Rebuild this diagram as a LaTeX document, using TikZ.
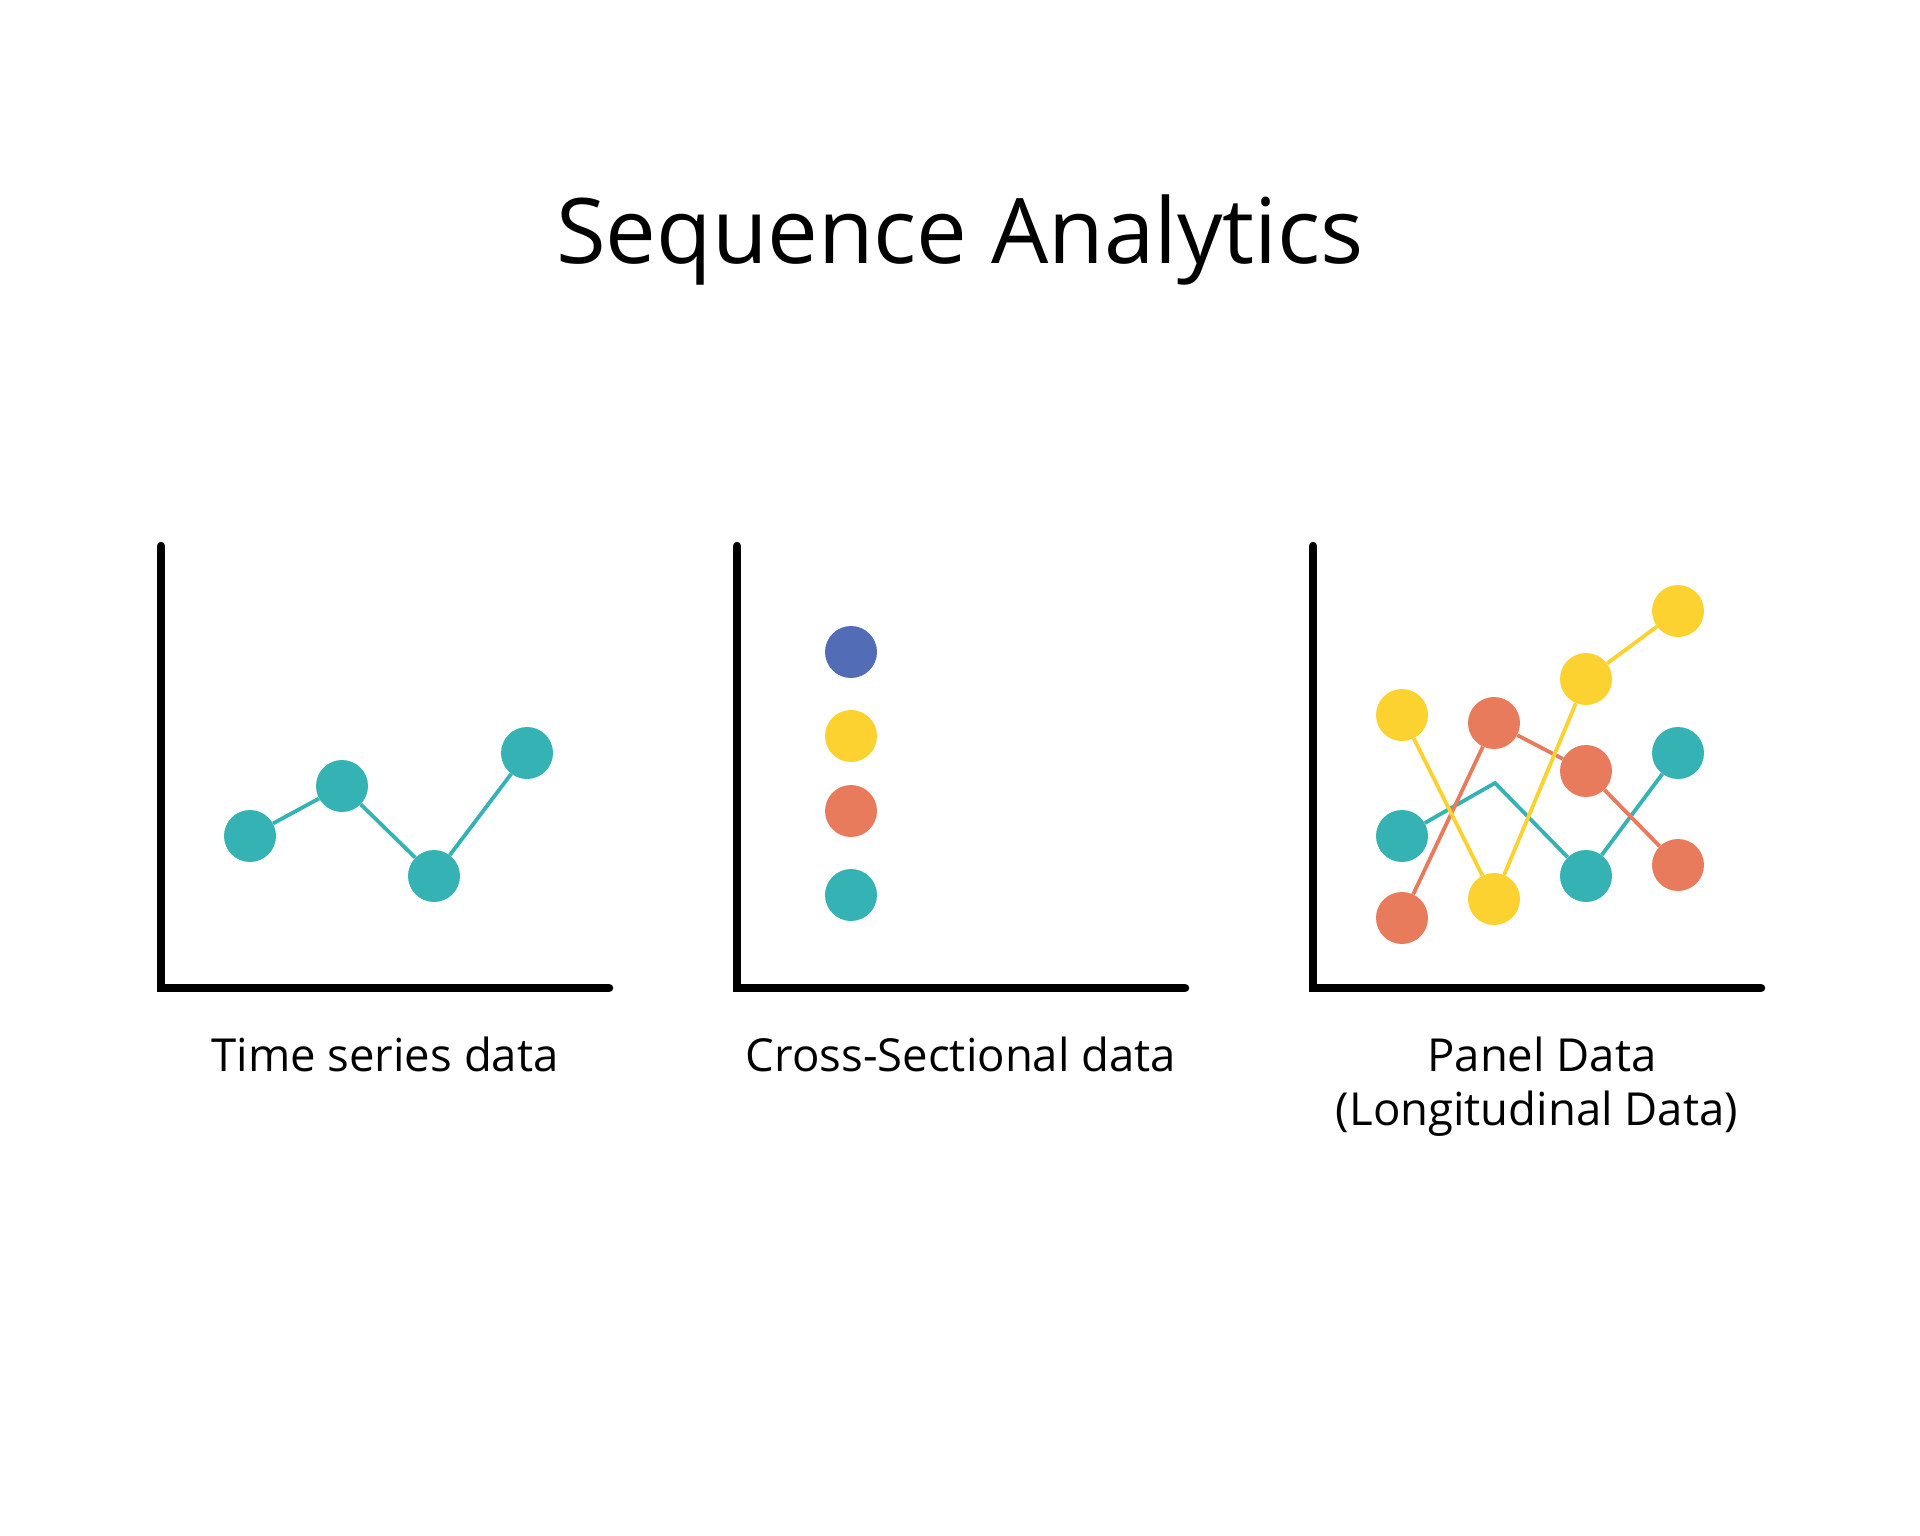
\documentclass[tikz,border=0pt]{standalone}
\usepackage{fontspec}
\setmainfont{Open Sans}

\definecolor{tealdot}{HTML}{35B3B4}
\definecolor{yellowdot}{HTML}{FCD230}
\definecolor{reddot}{HTML}{E97B5D}
\definecolor{bluedot}{HTML}{526CB5}

\tikzset{
	dot/.style={circle, fill=#1, minimum size=52pt, inner sep=0pt},
	link/.style={#1, line width=3.8pt},
	axes/.style={line width=8.5pt, line cap=round, line join=miter},
	caption/.style={anchor=base, font=\fontsize{45.5}{54}\selectfont},
}

\begin{document}
\begin{tikzpicture}[x=1pt, y=-1pt]
	\useasboundingbox (0,0) rectangle (1920,1536);
	\node[anchor=base, font=\fontsize{90.5}{108}\selectfont] (title) at (960,263) {Sequence Analytics};

	% time series
	\draw[axes] (161,546) -- (161,988) -- (609,988);
	\foreach \n/\x/\y in {1/250/836, 2/342/786, 3/434/876, 4/527/753}{
			\node[dot=tealdot] (ts\n) at (\x,\y) {};
		}
	\draw[link=tealdot] (ts1) -- (ts2) -- (ts3) -- (ts4);
	\node[caption] (tslabel) at (385,1071) {Time series data};

	% cross-sectional
	\draw[axes] (737,546) -- (737,988) -- (1185,988);
	\foreach \n/\c/\y in {1/bluedot/652, 2/yellowdot/736, 3/reddot/811, 4/tealdot/895}{
			\node[dot=\c] (cs\n) at (851,\y) {};
		}
	\node[caption] (cslabel) at (961,1071) {Cross-Sectional data};

	% panel
	\draw[axes] (1313,546) -- (1313,988) -- (1761,988);
	\foreach \n/\x/\y in {1/1402/836, 3/1586/876, 4/1678/753}{
			\node[dot=tealdot] (pt\n) at (\x,\y) {};
		}
	\coordinate (pt2) at (1495,783);
	\foreach \n/\x/\y in {1/1402/918, 2/1494/723, 3/1586/771, 4/1678/865}{
			\node[dot=reddot] (pr\n) at (\x,\y) {};
		}
	\foreach \n/\x/\y in {1/1402/715, 2/1494/899, 3/1586/679, 4/1678/611}{
			\node[dot=yellowdot] (py\n) at (\x,\y) {};
		}
	\draw[link=tealdot] (pt1) -- (pt2) -- (pt3) -- (pt4);
	\draw[link=reddot] (pr1) -- (pr2) -- (pr3) -- (pr4);
	\draw[link=yellowdot] (py1) -- (py2) -- (py3) -- (py4);
	\node[caption] (pdlabel) at (1542,1071) {Panel Data};
	\node[caption] (pdlabel2) at (1537,1125) {(Longitudinal Data)};
\end{tikzpicture}
\end{document}
